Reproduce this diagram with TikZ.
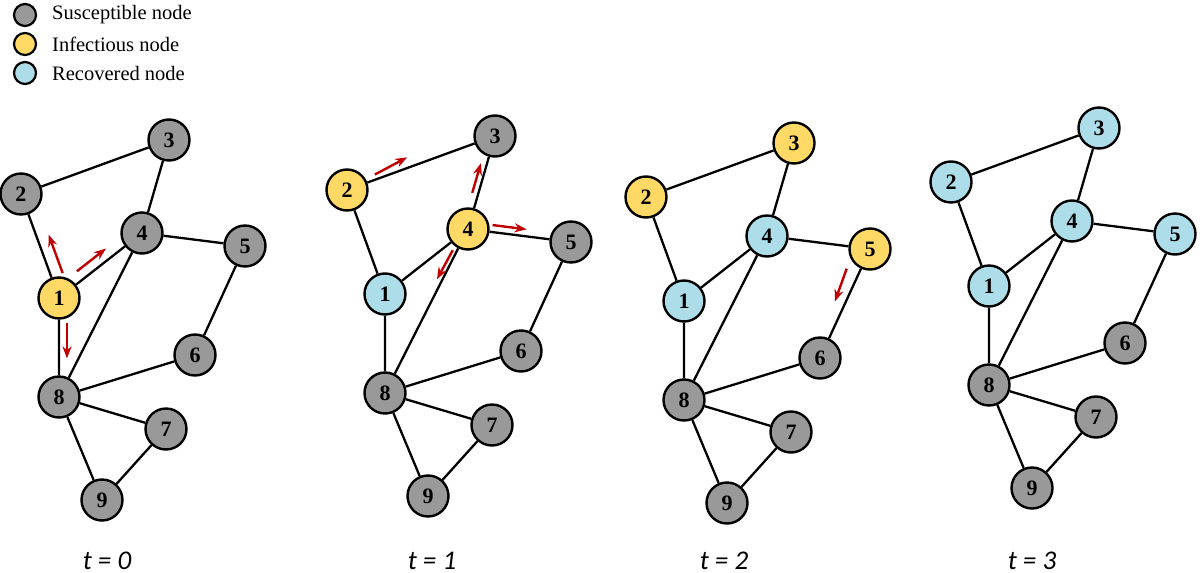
\documentclass[tikz,border=0pt]{standalone}
\usepackage{fontspec}
\setmainfont{Liberation Serif}
\newfontfamily\labfont{Carlito}
\usetikzlibrary{calc,arrows.meta}
\definecolor{susc}{RGB}{153,153,153}
\definecolor{infc}{RGB}{255,217,102}
\definecolor{recc}{RGB}{173,221,233}
\definecolor{arrc}{RGB}{192,0,0}
\begin{document}
\begin{tikzpicture}[x=1pt,y=-1pt,
  vtx/.style={circle,draw,line width=2.4pt,minimum size=41pt,inner sep=0pt,
    font=\fontsize{22}{22}\selectfont\bfseries},
  snode/.style={vtx,fill=susc},
  inode/.style={vtx,fill=infc},
  rnode/.style={vtx,fill=recc},
  edge/.style={line width=2.3pt},
  spread/.style={draw=arrc,line width=2.4pt,-{Stealth[length=12pt,width=9pt]}},
  legdot/.style={circle,draw,line width=2.2pt,minimum size=22pt,inner sep=0pt},
  legtext/.style={anchor=west,inner sep=0pt,font=\fontsize{20.5}{20.5}\selectfont},
  tlabel/.style={inner sep=0pt,font=\labfont\itshape\fontsize{27}{27}\selectfont},
  p1/.style={at={(0,-99)}},
  p2/.style={at={(-38,-203)}},
  p3/.style={at={(110,-257)}},
  p4/.style={at={(83,-164)}},
  p5/.style={at={(186,-151)}},
  p6/.style={at={(136,-42)}},
  p7/.style={at={(107,32)}},
  p8/.style={at={(0,0)}},
  p9/.style={at={(43,103)}}]
\useasboundingbox (0,0) rectangle (1200,573);

% legend
\node[legdot,fill=susc] (l1) at (25,15) {};
\node[legdot,fill=infc] (l2) at (25,44) {};
\node[legdot,fill=recc] (l3) at (25,73) {};
\node[legtext] (lt1) at (52,15) {Susceptible node};
\node[legtext] (lt2) at (52,44) {Infectious node};
\node[legtext] (lt3) at (52,73) {Recovered node};

% t = 0
\begin{scope}[shift={(59,397)}]
\node[inode,p1] (a1) {1};
\node[snode,p2] (a2) {2};
\node[snode,p3] (a3) {3};
\node[snode,p4] (a4) {4};
\node[snode,p5] (a5) {5};
\node[snode,p6] (a6) {6};
\node[snode,p7] (a7) {7};
\node[snode,p8] (a8) {8};
\node[snode,p9] (a9) {9};
\end{scope}

% t = 1
\begin{scope}[shift={(385,393)}]
\node[rnode,p1] (b1) {1};
\node[inode,p2] (b2) {2};
\node[snode,p3] (b3) {3};
\node[inode,p4] (b4) {4};
\node[snode,p5] (b5) {5};
\node[snode,p6] (b6) {6};
\node[snode,p7] (b7) {7};
\node[snode,p8] (b8) {8};
\node[snode,p9] (b9) {9};
\end{scope}

% t = 2
\begin{scope}[shift={(684,400)}]
\node[rnode,p1] (c1) {1};
\node[inode,p2] (c2) {2};
\node[inode,p3] (c3) {3};
\node[rnode,p4] (c4) {4};
\node[inode,p5] (c5) {5};
\node[snode,p6] (c6) {6};
\node[snode,p7] (c7) {7};
\node[snode,p8] (c8) {8};
\node[snode,p9] (c9) {9};
\end{scope}

% t = 3
\begin{scope}[shift={(989,385)}]
\node[rnode,p1] (d1) {1};
\node[rnode,p2] (d2) {2};
\node[rnode,p3] (d3) {3};
\node[rnode,p4] (d4) {4};
\node[rnode,p5] (d5) {5};
\node[snode,p6] (d6) {6};
\node[snode,p7] (d7) {7};
\node[snode,p8] (d8) {8};
\node[snode,p9] (d9) {9};
\end{scope}

\foreach \p in {a,b,c,d}{
  \draw[edge] (\p2)--(\p3) (\p2)--(\p1) (\p3)--(\p4) (\p1)--(\p4)
    (\p4)--(\p5) (\p4)--(\p8) (\p1)--(\p8) (\p5)--(\p6) (\p6)--(\p8)
    (\p8)--(\p7) (\p8)--(\p9) (\p7)--(\p9);
}

% spreading arrows
\draw[spread] ($(a1)!0.20!(a2)!12pt!-90:(a2)$) -- ($(a1)!0.57!(a2)!12pt!-90:(a2)$);
\draw[spread] ($(a1)!0.29!(a4)!10pt!90:(a4)$) -- ($(a1)!0.64!(a4)!10pt!90:(a4)$);
\draw[spread] ($(a1)!0.25!(a8)!8pt!90:(a8)$) -- ($(a1)!0.61!(a8)!8pt!90:(a8)$);

\draw[spread] ($(b2)!0.20!(b3)!5pt!90:(b3)$) -- ($(b2)!0.43!(b3)!10pt!90:(b3)$);
\draw[spread] ($(b4)!0.37!(b3)!6pt!90:(b3)$) -- ($(b4)!0.69!(b3)!6pt!90:(b3)$);
\draw[spread] ($(b4)!0.23!(b5)!7pt!90:(b5)$) -- ($(b4)!0.56!(b5)!7pt!90:(b5)$);
\draw[spread] ($(b4)!0.14!(b8)!4pt!-90:(b8)$) -- ($(b4)!0.32!(b8)!5pt!-90:(b8)$);

\draw[spread] ($(c5)!0.23!(c6)!13pt!-90:(c6)$) -- ($(c5)!0.52!(c6)!10pt!-90:(c6)$);

% time labels
\node[tlabel] (ta) at (107,561) {t = 0};
\node[tlabel] (tb) at (432,561) {t = 1};
\node[tlabel] (tc) at (724,561) {t = 2};
\node[tlabel] (td) at (1032,561) {t = 3};
\end{tikzpicture}
\end{document}
